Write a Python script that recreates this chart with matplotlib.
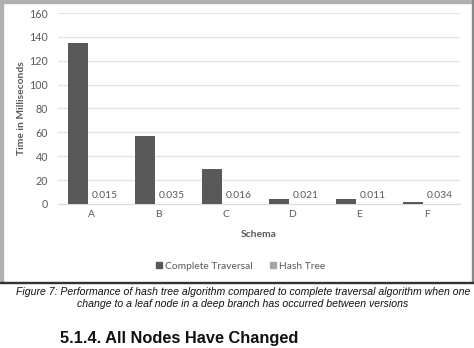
import matplotlib.pyplot as plt
from matplotlib.patches import Rectangle
from matplotlib.lines import Line2D
import numpy as np

schemas = ["A", "B", "C", "D", "E", "F"]
complete_traversal = [135, 57, 29, 4, 4, 2]
hash_tree = [0.015, 0.035, 0.016, 0.021, 0.011, 0.034]

W, H = 474, 348
DARK = "#595959"
LIGHT = "#a5a5a5"
TEXT = "#595959"
CHART_FONT = ["Lato", "DejaVu Sans"]
DOC_FONT = ["Liberation Sans", "DejaVu Sans"]
FS = 7.4


def px(x0, y0, x1, y1):
    # pixel box (top-left origin) -> figure fraction [left, bottom, width, height]
    return [x0 / W, 1 - y1 / H, (x1 - x0) / W, (y1 - y0) / H]


def main():
    fig = plt.figure(figsize=(W / 100, H / 100), dpi=100)

    ax = fig.add_axes(px(58, 13, 460, 204))
    x = np.arange(len(schemas))
    width = 0.31
    ax.bar(x - 0.2, complete_traversal, width, color=DARK, zorder=3)
    ax.bar(x + 0.2, hash_tree, width, color=LIGHT, zorder=3)

    for xi, v in zip(x, hash_tree):
        ax.annotate(f"{v}", xy=(xi + 0.2, v), xytext=(0, 3),
                    textcoords="offset points", ha="center", va="bottom",
                    fontsize=FS, color=TEXT, family=CHART_FONT)

    ax.set_xlim(-0.5, 5.5)
    ax.set_ylim(0, 160)
    ax.set_yticks(range(0, 161, 20))
    ax.set_xticks(x)
    ax.set_xticklabels(schemas)
    ax.grid(axis="y", color="#e3e3e3", linewidth=0.9, zorder=0)
    for side in ["top", "right", "left"]:
        ax.spines[side].set_visible(False)
    ax.spines["bottom"].set_color("#d9d9d9")
    ax.tick_params(axis="y", length=0, labelsize=FS + 0.3, labelcolor=TEXT, pad=7)
    ax.tick_params(axis="x", length=0, labelsize=FS, labelcolor=TEXT, pad=4)
    for lbl in ax.get_xticklabels() + ax.get_yticklabels():
        lbl.set_family(CHART_FONT)

    ax.set_ylabel("Time in Milliseconds", fontsize=FS, fontweight="bold",
                  color=TEXT, family=CHART_FONT)
    ax.yaxis.set_label_coords(-0.08, 0.5)
    ax.set_xlabel("Schema", fontsize=FS, fontweight="bold", color=TEXT,
                  family=CHART_FONT, labelpad=8)

    handles = [Line2D([], [], marker="s", linestyle="", color=DARK, markersize=4.5),
               Line2D([], [], marker="s", linestyle="", color=LIGHT, markersize=4.5)]
    fig.legend(handles, ["Complete Traversal", "Hash Tree"], loc="center",
               bbox_to_anchor=(239 / W, 1 - 266 / H), ncol=2, frameon=False,
               handletextpad=0.0, columnspacing=1.3, handlelength=1.2,
               prop={"family": CHART_FONT, "size": FS}, labelcolor=TEXT)

    # frame around the chart
    fig.patches.append(Rectangle((0, 1 - 282 / H), 3 / W, 282 / H,
                                 transform=fig.transFigure, color="#b0b0b0"))
    fig.patches.append(Rectangle((0, 1 - 2.5 / H), 1, 2.5 / H,
                                 transform=fig.transFigure, color="#b0b0b0"))
    fig.patches.append(Rectangle((472 / W, 1 - 282 / H), 2 / W, 282 / H,
                                 transform=fig.transFigure, color="#8a8a8a"))
    fig.patches.append(Rectangle((0, 1 - 283 / H), 1, 1.5 / H,
                                 transform=fig.transFigure, color="#333333"))

    fig.text(243 / W, 1 - 292 / H,
             "Figure 7: Performance of hash tree algorithm compared to complete "
             "traversal algorithm when one",
             ha="center", va="center", fontsize=7.6, style="italic",
             family=DOC_FONT, color="#111111")
    fig.text(243 / W, 1 - 304 / H,
             "change to a leaf node in a deep branch has occurred between versions",
             ha="center", va="center", fontsize=7.6, style="italic",
             family=DOC_FONT, color="#111111")
    fig.text(60 / W, 1 - 338 / H, "5.1.4. All Nodes Have Changed",
             ha="left", va="center", fontsize=11.8, fontweight="bold",
             family=DOC_FONT, color="#111111")

    fig.savefig("out.png", dpi=100)


if __name__ == '__main__':
    main()
